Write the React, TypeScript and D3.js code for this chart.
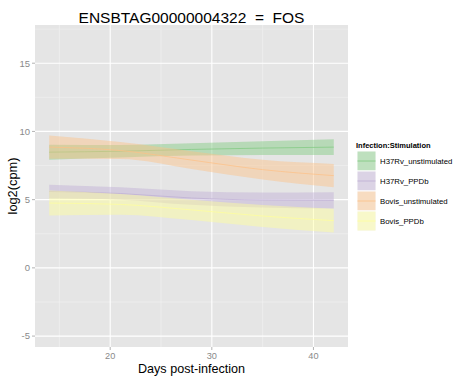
import React from "react";
import * as d3 from "d3";

const days = [14, 21, 28, 35, 42];
const seriesNames = ["H37Rv_unstimulated", "H37Rv_PPDb", "Bovis_unstimulated", "Bovis_PPDb"];
const seriesColors = ["#7fc97f", "#beaed4", "#fdc086", "#ffff99"];
const h37rvUnstimMean = [8.48, 8.55, 8.68, 8.78, 8.85];
const h37rvUnstimHalf = [0.55, 0.46, 0.45, 0.5, 0.58];
const h37rvPPDbMean = [5.6, 5.45, 5.12, 4.97, 4.95];
const h37rvPPDbHalf = [0.5, 0.45, 0.5, 0.55, 0.6];
const bovisUnstimMean = [8.85, 8.6, 7.9, 7.2, 6.76];
const bovisUnstimHalf = [0.85, 0.62, 0.65, 0.72, 0.86];
const bovisPPDbMean = [4.75, 4.65, 4.25, 3.8, 3.46];
const bovisPPDbHalf = [0.92, 0.76, 0.75, 0.8, 0.87];
const xTicks = [20, 30, 40];
const xMinor = [15, 25, 35];
const yTicks = [-5, 0, 5, 10, 15];
const yMinor = [-2.5, 2.5, 7.5, 12.5, 17.5];

const means = [h37rvUnstimMean, h37rvPPDbMean, bovisUnstimMean, bovisPPDbMean];
const halves = [h37rvUnstimHalf, h37rvPPDbHalf, bovisUnstimHalf, bovisPPDbHalf];

export default function App() {
  const W = 474, H = 379;
  const left = 35, right = 348, top = 25, bottom = 347;
  const x = d3.scaleLinear().domain([12.6, 43.4]).range([left, right]);
  const y = d3.scaleLinear().domain([-5.8, 17.8]).range([bottom, top]);
  const font = "Liberation Sans, Arial, Helvetica, sans-serif";

  const area = d3
    .area<number>()
    .x((_, i) => x(days[i]))
    .curve(d3.curveMonotoneX);
  const line = d3
    .line<number>()
    .x((_, i) => x(days[i]))
    .y((d) => y(d))
    .curve(d3.curveMonotoneX);

  return (
    <svg width={W} height={H} style={{ position: "absolute", left: 0, top: 0, background: "#fff" }} fontFamily={font}>
      <rect x={left} y={top} width={right - left} height={bottom - top} fill="#E5E5E5" />
      {xMinor.map((v) => (
        <line key={"xm" + v} x1={x(v)} x2={x(v)} y1={top} y2={bottom} stroke="#F2F2F2" strokeWidth={0.6} />
      ))}
      {yMinor.map((v) => (
        <line key={"ym" + v} x1={left} x2={right} y1={y(v)} y2={y(v)} stroke="#F2F2F2" strokeWidth={0.6} />
      ))}
      {xTicks.map((v) => (
        <line key={"xg" + v} x1={x(v)} x2={x(v)} y1={top} y2={bottom} stroke="#fff" strokeWidth={1.1} />
      ))}
      {yTicks.map((v) => (
        <line key={"yg" + v} x1={left} x2={right} y1={y(v)} y2={y(v)} stroke="#fff" strokeWidth={1.1} />
      ))}
      {means.map((m, s) => {
        const h = halves[s];
        const a = area.y0((_, i) => y(m[i] - h[i])).y1((_, i) => y(m[i] + h[i]));
        return (
          <g key={"s" + s}>
            <path d={a(m) || ""} fill={seriesColors[s]} fillOpacity={0.45} />
            <path d={line(m) || ""} fill="none" stroke={seriesColors[s]} strokeWidth={0.8} strokeOpacity={0.9} />
          </g>
        );
      })}
      {yTicks.map((v) => (
        <g key={"yt" + v}>
          <line x1={left - 3} x2={left} y1={y(v)} y2={y(v)} stroke="#7F7F7F" strokeWidth={0.6} />
          <text x={left - 5} y={y(v) + 3.3} textAnchor="end" fontSize={9.5} fill="#8A8A8A">
            {v}
          </text>
        </g>
      ))}
      {xTicks.map((v) => (
        <g key={"xt" + v}>
          <line x1={x(v)} x2={x(v)} y1={bottom} y2={bottom + 3} stroke="#7F7F7F" strokeWidth={0.6} />
          <text x={x(v)} y={bottom + 12} textAnchor="middle" fontSize={9.2} fill="#8A8A8A">
            {v}
          </text>
        </g>
      ))}
      <text x={(left + right) / 2} y={373} textAnchor="middle" fontSize={12.6} fill="#000">
        Days post-infection
      </text>
      <text transform={`translate(17,${(top + bottom) / 2}) rotate(-90)`} textAnchor="middle" fontSize={12.8} fill="#000">
        log2(cpm)
      </text>
      <text x={(left + right) / 2} y={23} textAnchor="middle" fontSize={15.5} fill="#000" style={{ whiteSpace: "pre" }}>
        {"ENSBTAG00000004322  =  FOS"}
      </text>
      <text x={356} y={148} fontSize={7.5} fontWeight="bold" fill="#000">
        Infection:Stimulation
      </text>
      {seriesNames.map((n, i) => {
        const ky = 151 + i * 20;
        return (
          <g key={"lg" + n}>
            <rect x={357} y={ky} width={19} height={20} fill="#F2F2F2" stroke="#fff" strokeWidth={1} />
            <rect x={357.5} y={ky + 0.5} width={18} height={19} fill={seriesColors[i]} fillOpacity={0.45} />
            <line x1={357.5} x2={375.5} y1={ky + 10} y2={ky + 10} stroke={seriesColors[i]} strokeWidth={0.8} />
            <text x={380} y={ky + 13} fontSize={7.8} fill="#000">
              {n}
            </text>
          </g>
        );
      })}
    </svg>
  );
}
